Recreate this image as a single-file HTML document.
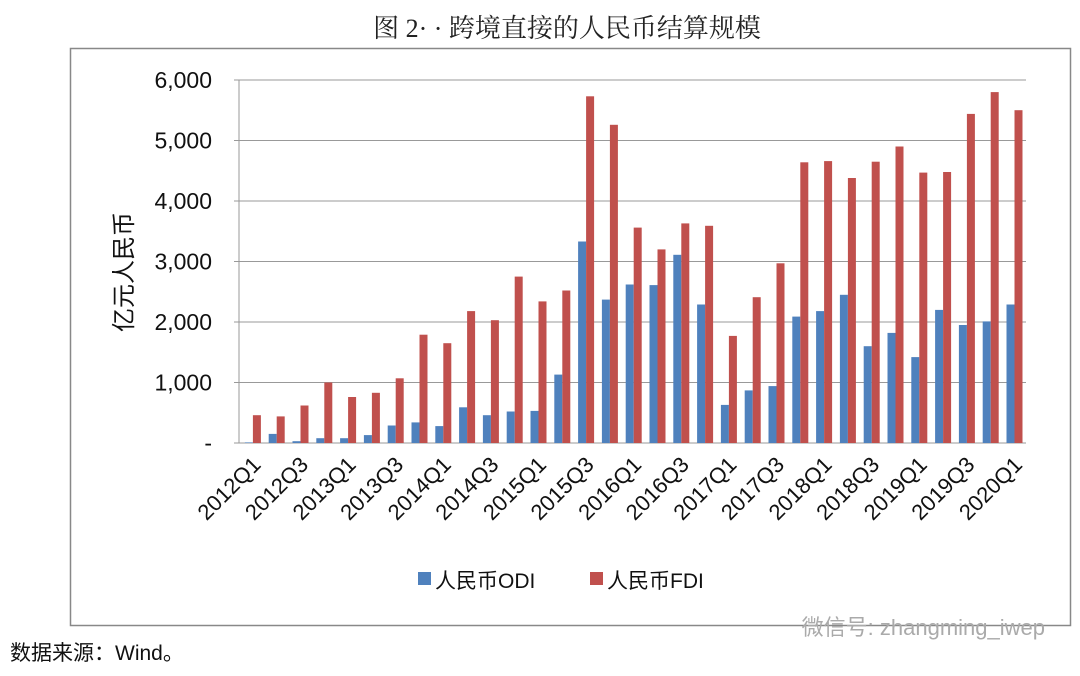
<!DOCTYPE html>
<html><head><meta charset="utf-8"><style>
body{margin:0;background:#fff;}
svg{display:block;font-family:"Liberation Sans","Noto Sans CJK SC",sans-serif;}
</style></head><body>
<svg width="1080" height="676" xmlns="http://www.w3.org/2000/svg">
<text x="567" y="37" font-size="26" text-anchor="middle" font-family="Liberation Serif,'Noto Serif CJK SC',serif" fill="#222">图 2· · 跨境直接的人民币结算规模</text>
<rect x="70.5" y="48.5" width="1000" height="577" fill="none" stroke="#888" stroke-width="1.5"/>
<g stroke="#999">
<line x1="234" x2="1026" y1="443" y2="443"/><line x1="234" x2="1026" y1="382.5" y2="382.5"/><line x1="234" x2="1026" y1="322" y2="322"/><line x1="234" x2="1026" y1="261.5" y2="261.5"/><line x1="234" x2="1026" y1="201" y2="201"/><line x1="234" x2="1026" y1="140.5" y2="140.5"/><line x1="234" x2="1026" y1="80" y2="80"/>
<line x1="239" x2="239" y1="80" y2="443"/>
</g>
<g font-size="23" text-anchor="end" fill="#111">
<text x="212" y="451">-</text><text x="212" y="390.5">1,000</text><text x="212" y="330">2,000</text><text x="212" y="269.5">3,000</text><text x="212" y="209">4,000</text><text x="212" y="148.5">5,000</text><text x="212" y="88">6,000</text>
</g>
<g transform="translate(0,443) scale(1,-1)">
<g fill="#4f81bd">
<rect x="244.9" y="0" width="8" height="0.6"/><rect x="268.7" y="0" width="8" height="9.1"/><rect x="292.5" y="0" width="8" height="1.8"/><rect x="316.3" y="0" width="8" height="4.8"/><rect x="340.1" y="0" width="8" height="4.8"/><rect x="363.9" y="0" width="8" height="7.9"/><rect x="387.7" y="0" width="8" height="17.5"/><rect x="411.5" y="0" width="8" height="20.6"/><rect x="435.3" y="0" width="8" height="16.9"/><rect x="459.1" y="0" width="8" height="35.7"/><rect x="482.9" y="0" width="8" height="27.8"/><rect x="506.7" y="0" width="8" height="31.5"/><rect x="530.5" y="0" width="8" height="32.1"/><rect x="554.3" y="0" width="8" height="68.4"/><rect x="578.1" y="0" width="8" height="201.5"/><rect x="601.9" y="0" width="8" height="143.4"/><rect x="625.7" y="0" width="8" height="158.5"/><rect x="649.5" y="0" width="8" height="157.9"/><rect x="673.3" y="0" width="8" height="188.2"/><rect x="697.1" y="0" width="8" height="138.5"/><rect x="720.9" y="0" width="8" height="38.1"/><rect x="744.7" y="0" width="8" height="52.6"/><rect x="768.5" y="0" width="8" height="56.9"/><rect x="792.3" y="0" width="8" height="126.4"/><rect x="816.1" y="0" width="8" height="131.9"/><rect x="839.9" y="0" width="8" height="148.2"/><rect x="863.7" y="0" width="8" height="96.8"/><rect x="887.5" y="0" width="8" height="110.1"/><rect x="911.3" y="0" width="8" height="85.9"/><rect x="935.1" y="0" width="8" height="133.1"/><rect x="958.9" y="0" width="8" height="118"/><rect x="982.7" y="0" width="8" height="121.6"/><rect x="1006.5" y="0" width="8" height="138.5"/>
</g>
<g fill="#c0504d">
<rect x="252.9" y="0" width="8" height="27.8"/><rect x="276.7" y="0" width="8" height="26.6"/><rect x="300.5" y="0" width="8" height="37.5"/><rect x="324.3" y="0" width="8" height="60.5"/><rect x="348.1" y="0" width="8" height="46"/><rect x="371.9" y="0" width="8" height="50.2"/><rect x="395.7" y="0" width="8" height="64.7"/><rect x="419.5" y="0" width="8" height="108.3"/><rect x="443.3" y="0" width="8" height="99.8"/><rect x="467.1" y="0" width="8" height="131.9"/><rect x="490.9" y="0" width="8" height="122.8"/><rect x="514.7" y="0" width="8" height="166.4"/><rect x="538.5" y="0" width="8" height="141.6"/><rect x="562.3" y="0" width="8" height="152.5"/><rect x="586.1" y="0" width="8" height="346.7"/><rect x="609.9" y="0" width="8" height="318.2"/><rect x="633.7" y="0" width="8" height="215.4"/><rect x="657.5" y="0" width="8" height="193.6"/><rect x="681.3" y="0" width="8" height="219.6"/><rect x="705.1" y="0" width="8" height="217.2"/><rect x="728.9" y="0" width="8" height="107.1"/><rect x="752.7" y="0" width="8" height="145.8"/><rect x="776.5" y="0" width="8" height="179.7"/><rect x="800.3" y="0" width="8" height="280.7"/><rect x="824.1" y="0" width="8" height="281.9"/><rect x="847.9" y="0" width="8" height="265"/><rect x="871.7" y="0" width="8" height="281.3"/><rect x="895.5" y="0" width="8" height="296.5"/><rect x="919.3" y="0" width="8" height="270.4"/><rect x="943.1" y="0" width="8" height="271"/><rect x="966.9" y="0" width="8" height="329.1"/><rect x="990.7" y="0" width="8" height="350.9"/><rect x="1014.5" y="0" width="8" height="332.8"/>
</g>
</g>
<g font-size="22" text-anchor="end" fill="#111">
<text transform="translate(262,466) rotate(-45)">2012Q1</text>
<text transform="translate(309.5,466) rotate(-45)">2012Q3</text>
<text transform="translate(357.1,466) rotate(-45)">2013Q1</text>
<text transform="translate(404.7,466) rotate(-45)">2013Q3</text>
<text transform="translate(452.3,466) rotate(-45)">2014Q1</text>
<text transform="translate(499.9,466) rotate(-45)">2014Q3</text>
<text transform="translate(547.5,466) rotate(-45)">2015Q1</text>
<text transform="translate(595.1,466) rotate(-45)">2015Q3</text>
<text transform="translate(642.7,466) rotate(-45)">2016Q1</text>
<text transform="translate(690.3,466) rotate(-45)">2016Q3</text>
<text transform="translate(737.9,466) rotate(-45)">2017Q1</text>
<text transform="translate(785.5,466) rotate(-45)">2017Q3</text>
<text transform="translate(833.1,466) rotate(-45)">2018Q1</text>
<text transform="translate(880.7,466) rotate(-45)">2018Q3</text>
<text transform="translate(928.3,466) rotate(-45)">2019Q1</text>
<text transform="translate(975.9,466) rotate(-45)">2019Q3</text>
<text transform="translate(1023.5,466) rotate(-45)">2020Q1</text>
</g>
<text x="10" y="660" font-size="21" fill="#111">数据来源：Wind。</text>
<text x="1045" y="635" font-size="22" fill="#aaa" text-anchor="end">微信号: zhangming_iwep</text>
<rect x="418" y="572" width="13" height="13" fill="#4f81bd"/>
<text x="435" y="588" font-size="21" fill="#111">人民币ODI</text>
<rect x="590" y="572" width="13" height="13" fill="#c0504d"/>
<text x="607" y="588" font-size="21" fill="#111">人民币FDI</text>
<text transform="translate(132,272) rotate(-90)" font-size="24" text-anchor="middle" fill="#111">亿元人民币</text>
</svg>
</body></html>
